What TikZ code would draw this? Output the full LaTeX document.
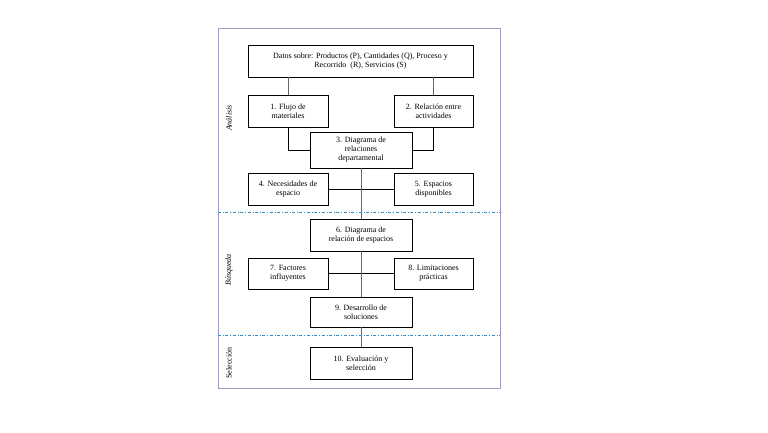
\documentclass[tikz,border=0pt]{standalone}
\usepackage{fontspec}
\setmainfont{Liberation Serif}
\begin{document}
\begin{tikzpicture}[x=1pt,y=-1pt,
  box/.style={draw,thick,align=center,font=\fontsize{8}{9}\selectfont,inner sep=1pt},
  ln/.style={draw=black!60,semithick},
  lnb/.style={draw=black,semithick},
  sep/.style={draw=blue!40!cyan!60!gray,dash dot,semithick},
  lab/.style={rotate=90,font=\fontsize{8}{9}\selectfont}]
\useasboundingbox (0,0) rectangle (768,433);
\draw[draw=blue!30!gray!60,semithick] (218,28) rectangle (500,388);
\node[box,minimum width=225,minimum height=32] (d) at (360.5,61) {Datos sobre: Productos (P), Cantidades (Q), Proceso y\\Recorrido\ \ (R), Servicios (S)};
\node[box,minimum width=80,minimum height=32] (b1) at (288,111) {1. Flujo de\\materiales};
\node[box,minimum width=79,minimum height=32] (b2) at (433.5,111) {2. Relación entre\\actividades};
\node[box,minimum width=102,minimum height=36] (b3) at (361,150) {3. Diagrama de\\relaciones\\departamental};
\node[box,minimum width=80,minimum height=32] (b4) at (288,189) {4. Necesidades de\\espacio};
\node[box,minimum width=79,minimum height=32] (b5) at (433.5,189) {5. Espacios\\disponibles};
\node[box,minimum width=102,minimum height=32] (b6) at (361,235) {6. Diagrama de\\relación de espacios};
\node[box,minimum width=80,minimum height=31] (b7) at (288,273.5) {7. Factores\\influyentes};
\node[box,minimum width=79,minimum height=31] (b8) at (433.5,273.5) {8. Limitaciones\\prácticas};
\node[box,minimum width=102,minimum height=30] (b9) at (361,312) {9. Desarrollo de\\soluciones};
\node[box,minimum width=102,minimum height=32] (b10) at (361,363) {10. Evaluación y\\selección};
\coordinate (cx) at (361,189);
\coordinate (cy) at (361,273.5);
\draw[ln] (d.south -| b1) -- (b1.north);
\draw[ln] (d.south -| b2) -- (b2.north);
\draw[lnb] (b1.south) |- (b3.west);
\draw[lnb] (b2.south) |- (b3.east);
\draw[lnb] (b4.east) -- (b5.west);
\draw[lnb] (b7.east) -- (b8.west);
\draw[ln] (b3.south) -- (b6.north);
\draw[ln] (b6.south) -- (b9.north);
\draw[ln] (b9.south) -- (b10.north);
\draw[sep] (218,212) -- (500,212);
\draw[sep] (218,335) -- (500,335);
\node[lab,font=\fontsize{8}{9}\selectfont\itshape] (l1) at (229,118) {Análisis};
\node[lab,font=\fontsize{8}{9}\selectfont\itshape] (l2) at (229,270) {Búsqueda};
\node[lab] (l3) at (229,363) {Selección};
\end{tikzpicture}
\end{document}
